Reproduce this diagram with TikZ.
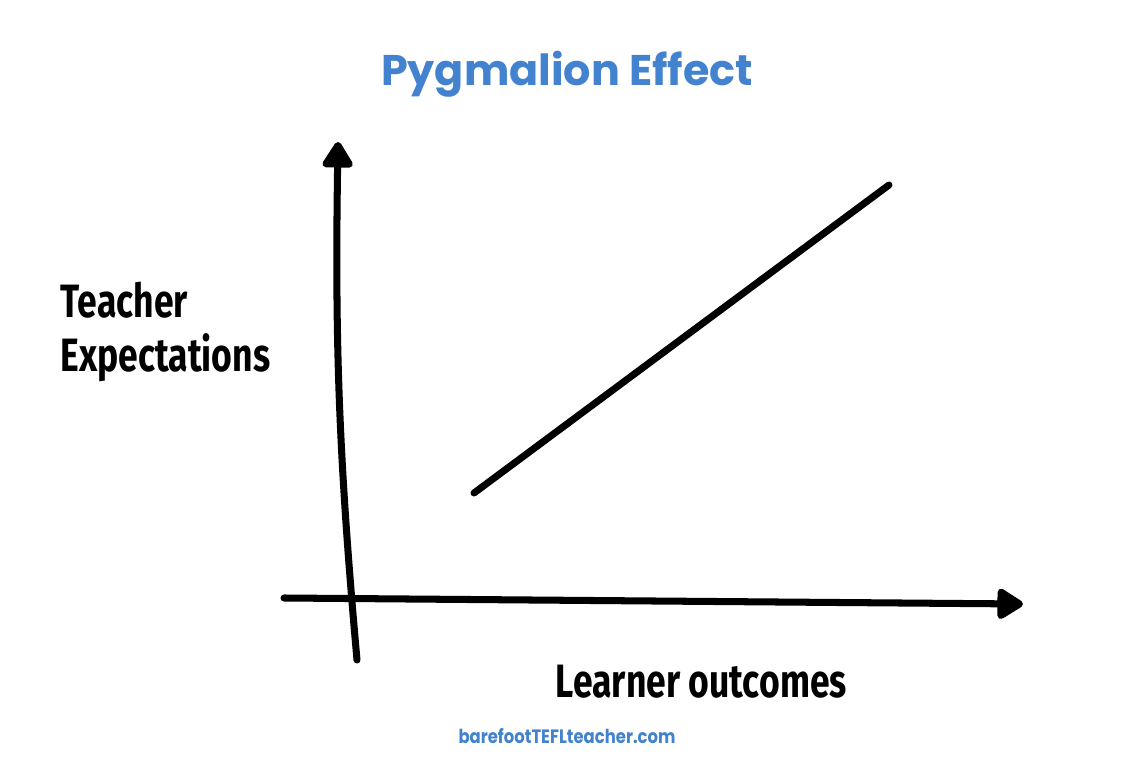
\documentclass[tikz,border=0pt]{standalone}
\usepackage{fontspec}
\usetikzlibrary{arrows.meta}
\newfontfamily\titlefont{Poppins}
\newfontfamily\sitefont[FakeStretch=0.85]{Poppins}
\newfontfamily\handfont[FakeStretch=0.76]{Fira Sans}
\definecolor{pygblue}{RGB}{66,130,206}
\tikzset{
  axis/.style={line width=2pt, line cap=round,
    -{Triangle[length=2.9mm,width=3.4mm,round]}},
  trend/.style={line width=2pt, line cap=round},
  hand/.style={font=\handfont\bfseries\fontsize{13.3}{15}\selectfont,
    inner sep=0pt, anchor=base west},
  heading/.style={font=\titlefont\bfseries\fontsize{12.2}{15}\selectfont,
    text=pygblue, inner sep=0pt, anchor=base},
  site/.style={font=\sitefont\bfseries\fontsize{5.5}{7}\selectfont,
    text=pygblue, inner sep=0pt, anchor=base},
}
\begin{document}
\begin{tikzpicture}
\useasboundingbox (0,0) rectangle (11.34,7.56);

\coordinate (ylo) at (3.57,0.96);
\coordinate (yhi) at (3.38,6.14);
\coordinate (xlo) at (2.84,1.58);
\coordinate (xhi) at (10.23,1.52);
\coordinate (lo)  at (4.74,2.63);
\coordinate (hi)  at (8.89,5.71);

\draw[axis] (ylo) to[bend left=3] (yhi);
\draw[axis] (xlo) -- (xhi);
\draw[trend] (lo) -- (hi);

\node[heading] (head)   at (5.67,6.70) {Pygmalion Effect};
\node[hand]    (teach)  at (0.60,4.38) {Teacher};
\node[hand]    (expect) at (0.60,3.84) {Expectations};
\node[hand]    (learn)  at (5.55,0.59) {Learner outcomes};
\node[site]    (url)    at (5.67,0.13) {barefootTEFLteacher.com};

\end{tikzpicture}
\end{document}
